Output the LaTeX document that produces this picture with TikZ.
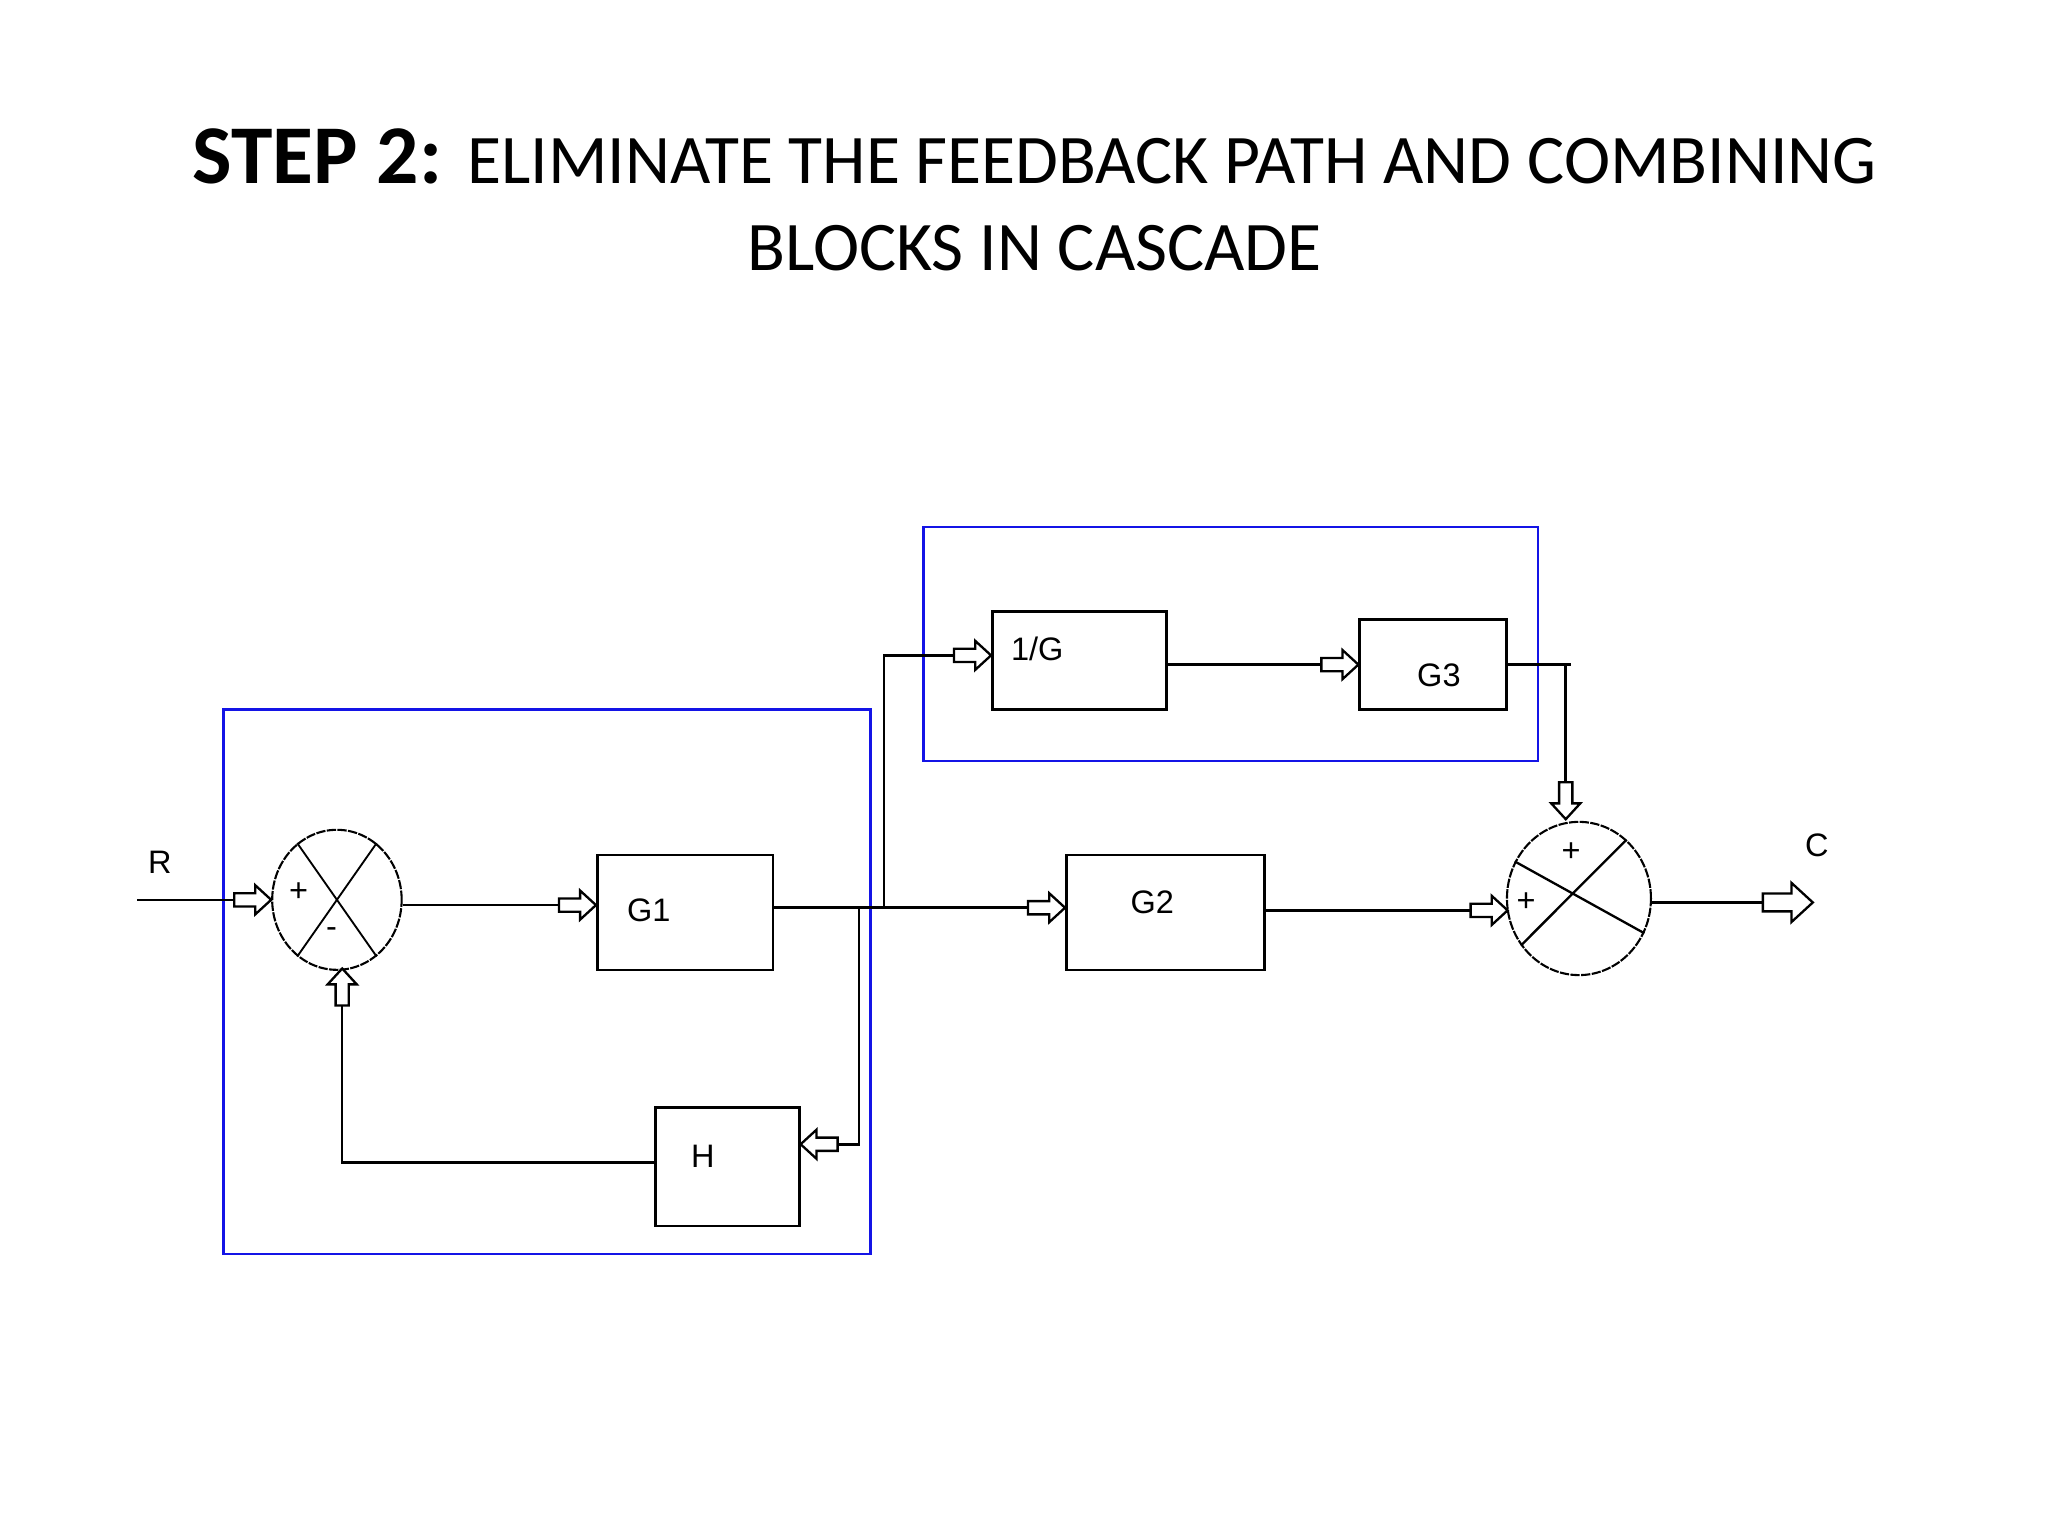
\documentclass[tikz,border=0pt]{standalone}
\usepackage{fontspec}
\setmainfont{Carlito}
\newfontfamily\labf{Liberation Sans}
\usetikzlibrary{shapes.geometric}
\definecolor{bbox}{RGB}{20,20,230}
\tikzset{
 blk/.style={draw,line width=1.1pt,minimum width=#1,inner sep=0pt},
 lab/.style={font=\labf\fontsize{14}{16}\selectfont,inner sep=0pt},
 wire/.style={line width=1.1pt},
 sumj/.style={draw,ellipse,line width=0.9pt,dash pattern=on 4pt off 0.6pt,inner sep=0pt},
 grp/.style={draw=bbox,line width=1.1pt},
 harrow/.pic={\draw[line width=1pt,fill=white] (-28,-5)--(-12,-5)--(-12,-11)--(0,0)--(-12,11)--(-12,5)--(-28,5)--cycle;}
}
\begin{document}
\begin{tikzpicture}[x=0.02cm,y=-0.02cm]
\useasboundingbox (0,0) rectangle (1550,1162);
% title
\node[inner sep=0pt] (t1) at (783,118) {\fontsize{36}{40}\selectfont\textbf{STEP 2:} \fontsize{30}{36}\selectfont ELIMINATE THE FEEDBACK PATH AND COMBINING};
\node[inner sep=0pt] (t2) at (783,188) {\fontsize{30}{36}\selectfont BLOCKS IN CASCADE};
% group boxes
\draw[grp] (169,537) rectangle (659,949);
\draw[grp] (699,399) rectangle (1164,576);
% blocks
\node[blk=2.66cm,minimum height=1.74cm] (g1) at (518.5,690.5) {};
\node[blk=2.18cm,minimum height=1.8cm] (h) at (550.5,883) {};
\node[blk=3cm,minimum height=1.74cm] (g2) at (882,690.5) {};
\node[blk=2.64cm,minimum height=1.48cm] (ig) at (817,500) {};
\node[blk=2.22cm,minimum height=1.36cm] (g3) at (1084.5,503) {};
\node[lab] at (491,689) {G1};
\node[lab] at (532,875) {H};
\node[lab] at (872,683) {G2};
\node[lab] at (785,491) {1/G};
\node[lab] at (1089,511) {G3};
% summing junctions
\node[sumj,minimum width=1.96cm,minimum height=2.12cm] (s1) at (255,681) {};
\draw[line width=0.8pt] (s1.125)--(s1.-55) (s1.55)--(s1.235);
\node[lab] at (226,675) {+};
\node[lab] at (251,706) {-};
\node[sumj,minimum width=2.18cm,minimum height=2.32cm] (s2) at (1195,680) {};
\draw[line width=1pt] (s2.150)--(s2.-28) (s2.51)--(s2.219);
\node[lab] at (1189,645) {+};
\node[lab] at (1155,683) {+};
% labels
\node[lab] (r) at (121,653) {R};
\node[lab] (c) at (1375,640) {C};
% wires
\coordinate (rin) at (104,681);
\draw[wire] (rin) -- (s1.west |- rin);
\pic at (s1.west |- rin) {harrow};
\draw[wire] (s1.east |- 0,685) -- (g1.west |- 0,685);
\pic at (g1.west |- 0,685) {harrow};
\coordinate (bh) at (650,687);
\coordinate (bu) at (669,687);
\draw[wire] (g1.east |- 0,687) -- (g2.west |- 0,687);
\pic at (g2.west |- 0,687) {harrow};
\draw[wire] (bh) -- (650,866) -- (h.east |- 0,866);
\pic[rotate=180] at (h.east |- 0,866) {harrow};
\draw[wire] (h.west |- 0,880) -- (259,880) -- (259,733);
\pic[rotate=90] at (259,733) {harrow};
\draw[wire] (bu) -- (669,496) -- (ig.west |- 0,496);
\pic at (ig.west |- 0,496) {harrow};
\draw[wire] (ig.east |- 0,503) -- (g3.west |- 0,503);
\pic at (g3.west |- 0,503) {harrow};
\draw[wire] (g3.east |- 0,503) -- (1189,503);
\draw[wire] (1185,503) -- (1185,620);
\pic[rotate=-90] at (1185,620) {harrow};
\draw[wire] (g2.east |- 0,689) -- (1141,689);
\pic at (1141,689) {harrow};
\coordinate (cout) at (1372,683);
\draw[wire] (s2.east |- cout) -- (cout);
\begin{scope}[shift={(cout)},scale=1.35]
\draw[line width=1pt,fill=white] (-28,-5)--(-12,-5)--(-12,-11)--(0,0)--(-12,11)--(-12,5)--(-28,5)--cycle;
\end{scope}
\end{tikzpicture}
\end{document}
